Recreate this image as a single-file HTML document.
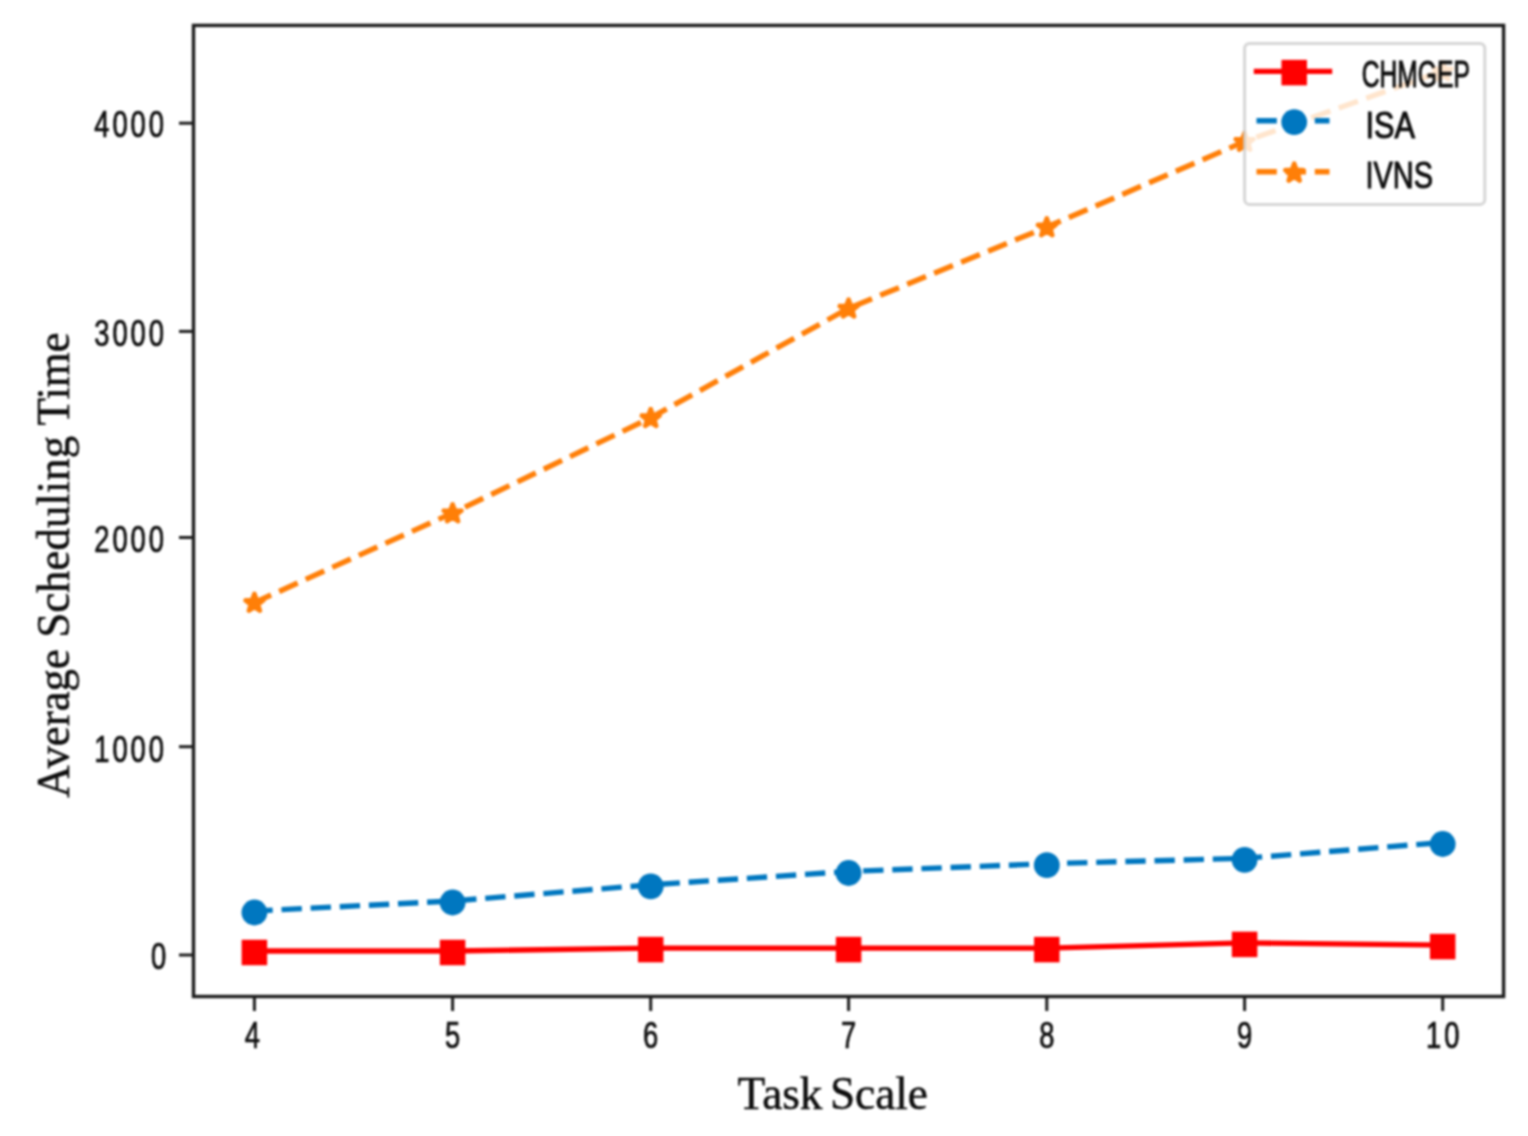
<!DOCTYPE html>
<html lang="en">
<head>
<meta charset="utf-8">
<title>Average Scheduling Time vs Task Scale</title>
<style>
html,body{margin:0;padding:0;background:#fff;}
body{width:1528px;height:1136px;overflow:hidden;}
svg{display:block;filter:blur(0.9px);}
.tick{font-family:"Liberation Sans",sans-serif;stroke:#0d0d0d;stroke-width:0.75px;}
.leg{stroke-width:1px;}
.axl{font-family:"Liberation Serif",serif;stroke:#0d0d0d;stroke-width:0.5px;}
</style>
</head>
<body>
<svg width="1528" height="1136" viewBox="0 0 1528 1136">
<rect width="1528" height="1136" fill="#fff"/>
<g class="series">
<polyline points="254.40,951.00 452.60,951.00 650.70,948.10 848.60,948.10 1046.80,948.10 1244.60,942.90 1442.70,945.10" fill="none" stroke="#ff0000" stroke-width="5.40" stroke-linecap="square" stroke-linejoin="round"/>
<rect x="241.65" y="939.75" width="25.5" height="25.5" fill="#ff0000"/><rect x="439.85" y="939.75" width="25.5" height="25.5" fill="#ff0000"/><rect x="637.95" y="936.85" width="25.5" height="25.5" fill="#ff0000"/><rect x="835.85" y="936.85" width="25.5" height="25.5" fill="#ff0000"/><rect x="1034.05" y="936.85" width="25.5" height="25.5" fill="#ff0000"/><rect x="1231.85" y="931.65" width="25.5" height="25.5" fill="#ff0000"/><rect x="1429.95" y="933.85" width="25.5" height="25.5" fill="#ff0000"/>
<polyline points="254.40,911.00 452.60,901.00 650.70,884.80 848.60,871.50 1046.80,863.70 1244.60,858.30 1442.70,842.50" fill="none" stroke="#0077c0" stroke-width="5.40" stroke-linecap="butt" stroke-linejoin="round" stroke-dasharray="20.33 8.82" stroke-dashoffset="2.0"/>
<circle cx="254.40" cy="912.50" r="12.9" fill="#0077c0"/><circle cx="452.60" cy="902.50" r="12.9" fill="#0077c0"/><circle cx="650.70" cy="886.30" r="12.9" fill="#0077c0"/><circle cx="848.60" cy="873.00" r="12.9" fill="#0077c0"/><circle cx="1046.80" cy="865.20" r="12.9" fill="#0077c0"/><circle cx="1244.60" cy="859.80" r="12.9" fill="#0077c0"/><circle cx="1442.70" cy="844.00" r="12.9" fill="#0077c0"/>
<polyline points="254.40,602.60 452.60,513.00 650.70,417.80 848.60,308.30 1046.80,227.10 1244.60,141.50 1442.70,71.00" fill="none" stroke="#ff7f08" stroke-width="5.40" stroke-linecap="butt" stroke-linejoin="round" stroke-dasharray="20.33 8.82" stroke-dashoffset="2.0"/>
<polygon points="254.40,592.40 257.13,599.44 264.67,599.86 258.82,604.64 260.75,611.94 254.40,607.84 248.05,611.94 249.98,604.64 244.13,599.86 251.67,599.44" fill="#ff7f08" stroke="#ff7f08" stroke-width="3.4" stroke-linejoin="bevel"/><polygon points="452.60,502.80 455.33,509.84 462.87,510.26 457.02,515.04 458.95,522.34 452.60,518.24 446.25,522.34 448.18,515.04 442.33,510.26 449.87,509.84" fill="#ff7f08" stroke="#ff7f08" stroke-width="3.4" stroke-linejoin="bevel"/><polygon points="650.70,407.60 653.43,414.64 660.97,415.06 655.12,419.84 657.05,427.14 650.70,423.04 644.35,427.14 646.28,419.84 640.43,415.06 647.97,414.64" fill="#ff7f08" stroke="#ff7f08" stroke-width="3.4" stroke-linejoin="bevel"/><polygon points="848.60,298.10 851.33,305.14 858.87,305.56 853.02,310.34 854.95,317.64 848.60,313.54 842.25,317.64 844.18,310.34 838.33,305.56 845.87,305.14" fill="#ff7f08" stroke="#ff7f08" stroke-width="3.4" stroke-linejoin="bevel"/><polygon points="1046.80,216.90 1049.53,223.94 1057.07,224.36 1051.22,229.14 1053.15,236.44 1046.80,232.34 1040.45,236.44 1042.38,229.14 1036.53,224.36 1044.07,223.94" fill="#ff7f08" stroke="#ff7f08" stroke-width="3.4" stroke-linejoin="bevel"/><polygon points="1244.60,131.30 1247.33,138.34 1254.87,138.76 1249.02,143.54 1250.95,150.84 1244.60,146.74 1238.25,150.84 1240.18,143.54 1234.33,138.76 1241.87,138.34" fill="#ff7f08" stroke="#ff7f08" stroke-width="3.4" stroke-linejoin="bevel"/><polygon points="1442.70,60.80 1445.43,67.84 1452.97,68.26 1447.12,73.04 1449.05,80.34 1442.70,76.24 1436.35,80.34 1438.28,73.04 1432.43,68.26 1439.97,67.84" fill="#ff7f08" stroke="#ff7f08" stroke-width="3.4" stroke-linejoin="bevel"/>
</g>
<g stroke="#1c1c1c" stroke-width="3" fill="none">
<line x1="254.4" y1="996.5" x2="254.4" y2="1011.0"/>
<line x1="452.6" y1="996.5" x2="452.6" y2="1011.0"/>
<line x1="650.7" y1="996.5" x2="650.7" y2="1011.0"/>
<line x1="848.6" y1="996.5" x2="848.6" y2="1011.0"/>
<line x1="1046.8" y1="996.5" x2="1046.8" y2="1011.0"/>
<line x1="1244.6" y1="996.5" x2="1244.6" y2="1011.0"/>
<line x1="1442.7" y1="996.5" x2="1442.7" y2="1011.0"/>
<line x1="193.5" y1="955.00" x2="179.0" y2="955.00"/>
<line x1="193.5" y1="746.70" x2="179.0" y2="746.70"/>
<line x1="193.5" y1="537.50" x2="179.0" y2="537.50"/>
<line x1="193.5" y1="331.40" x2="179.0" y2="331.40"/>
<line x1="193.5" y1="123.20" x2="179.0" y2="123.20"/>
</g>
<rect x="193.5" y="25.4" width="1310.10" height="971.10" fill="none" stroke="#1c1c1c" stroke-width="3.4"/>
<g class="tick" font-size="37" fill="#0d0d0d" letter-spacing="4.0">
<text transform="translate(253.88 1048.3) scale(0.74 1)" text-anchor="middle">4</text>
<text transform="translate(454.08 1048.3) scale(0.74 1)" text-anchor="middle">5</text>
<text transform="translate(652.18 1048.3) scale(0.74 1)" text-anchor="middle">6</text>
<text transform="translate(850.08 1048.3) scale(0.74 1)" text-anchor="middle">7</text>
<text transform="translate(1048.28 1048.3) scale(0.74 1)" text-anchor="middle">8</text>
<text transform="translate(1246.08 1048.3) scale(0.74 1)" text-anchor="middle">9</text>
<text transform="translate(1444.18 1048.3) scale(0.74 1)" text-anchor="middle">10</text>
<text transform="translate(169.16 969.30) scale(0.74 1)" text-anchor="end">0</text>
<text transform="translate(166.96 761.50) scale(0.74 1)" text-anchor="end">1000</text>
<text transform="translate(166.96 551.60) scale(0.74 1)" text-anchor="end">2000</text>
<text transform="translate(166.96 345.70) scale(0.74 1)" text-anchor="end">3000</text>
<text transform="translate(166.96 137.30) scale(0.74 1)" text-anchor="end">4000</text>
</g>
<text class="axl" transform="translate(832.8 1108.6) scale(0.985 1)" text-anchor="middle" font-size="46" word-spacing="-4" fill="#0d0d0d">Task Scale</text>
<text class="axl" transform="translate(69 565) rotate(-90) scale(0.976 1)" text-anchor="middle" font-size="46" fill="#0d0d0d">Average Scheduling Time</text>
<rect x="1244.6" y="43.4" width="240.20" height="161.00" rx="5" ry="5" fill="#fff" fill-opacity="0.8" stroke="#cccccc" stroke-opacity="0.8" stroke-width="3"/>
<line x1="1256.5" y1="71.4" x2="1329.5" y2="71.4" stroke="#ff0000" stroke-width="5.40" stroke-linecap="square"/>
<rect x="1281.45" y="59.85" width="25.5" height="25.5" fill="#ff0000"/>
<line x1="1256.5" y1="120.8" x2="1329.5" y2="120.8" stroke="#0077c0" stroke-width="5.40" stroke-dasharray="20.33 8.82"/>
<circle cx="1294.20" cy="122.10" r="12.9" fill="#0077c0"/>
<line x1="1256.5" y1="171.7" x2="1329.5" y2="171.7" stroke="#ff7f08" stroke-width="5.40" stroke-dasharray="20.33 8.82"/>
<polygon points="1294.20,162.20 1296.93,169.24 1304.47,169.66 1298.62,174.44 1300.55,181.74 1294.20,177.64 1287.85,181.74 1289.78,174.44 1283.93,169.66 1291.47,169.24" fill="#ff7f08" stroke="#ff7f08" stroke-width="3.4" stroke-linejoin="bevel"/>
<g class="tick leg" font-size="37" fill="#0d0d0d">
<text x="1361.8" y="86.8" textLength="108" lengthAdjust="spacingAndGlyphs">CHMGEP</text>
<text x="1365.5" y="137.5" textLength="49.5" lengthAdjust="spacingAndGlyphs">ISA</text>
<text x="1365.5" y="187.7" textLength="67.5" lengthAdjust="spacingAndGlyphs">IVNS</text>
</g>
</svg>
</body>
</html>
